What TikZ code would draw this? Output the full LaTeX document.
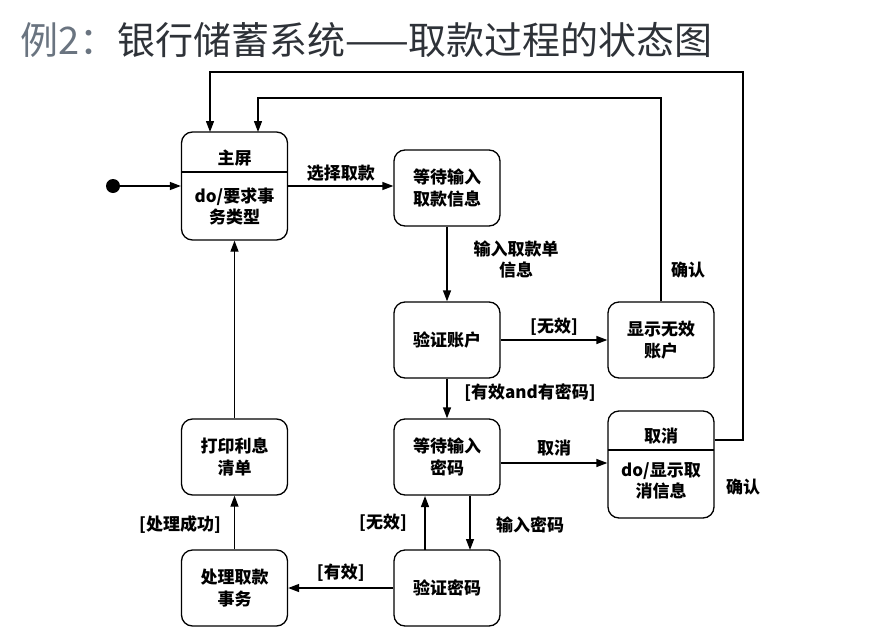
\documentclass[tikz,border=0pt]{standalone}
\usepackage{fontspec}
\setmainfont{Noto Sans CJK SC}
\usetikzlibrary{arrows.meta}
\definecolor{titlec}{HTML}{6A7480}
\definecolor{titled}{HTML}{2E3238}
\begin{document}
\begin{tikzpicture}[x=1pt,y=-1pt,
  st/.style={draw,line width=1.3pt,rounded corners=11pt,minimum width=106pt,minimum height=76pt,inner sep=0pt,align=center,font=\fontsize{17}{22}\selectfont\bfseries},
  lab/.style={font=\fontsize{17}{21}\selectfont\bfseries,align=center,inner sep=1pt},
  ar/.style={line width=1.3pt,-{Triangle[length=11pt,width=8pt]}}]
\useasboundingbox (0,0) rectangle (877,637);
\node[anchor=west,font=\fontsize{38}{40}\selectfont,inner sep=0pt] (title) at (20,40) {\textcolor{titlec}{例2：}\textcolor{titled}{银行储蓄系统——取款过程的状态图}};
% states
\node[st,minimum height=108pt] (main) at (234.5,186) {};
\draw[line width=1.3pt] (182,172) -- (287,172);
\node[lab] (mainT) at (234.5,158) {主屏};
\node[lab] (mainB) at (234.5,206) {do/要求事\\务类型};
\node[st] (wait) at (447,188) {等待输入\\取款信息};
\node[st] (acct) at (447,340) {验证账户};
\node[st] (inval) at (661,340) {显示无效\\账户};
\node[st] (pwd) at (447,457) {等待输入\\密码};
\node[st,minimum height=107pt] (cancel) at (661,464.5) {};
\draw[line width=1.3pt] (608,450) -- (714,450);
\node[lab] (cancelT) at (661,436) {取消};
\node[lab] (cancelB) at (661,481) {do/显示取\\消信息};
\node[st] (print) at (234.5,457) {打印利息\\清单};
\node[st] (proc) at (234.5,588) {处理取款\\事务};
\node[st] (vpwd) at (447,588) {验证密码};
\fill (113,186) circle (7pt) coordinate (init);
% connectors
\draw[ar] (init) -- (main.west|-init);
\draw[ar] (main.east|-init) -- node[lab,above=3pt] {选择取款} (wait.west|-init);
\draw[ar] (wait) -- (acct);
\node[lab] (l1) at (516,259) {输入取款单\\信息};
\draw[ar] (acct) -- node[lab,above=3pt] {[无效]} (inval);
\draw[ar] (inval.north) -- (661,98) -- (258,98) -- (258,132);
\node[lab] (l2) at (688,270) {确认};
\draw[ar] (cancel.east|-0,440) -- (743,440) -- (743,72) -- (210,72) -- (210,132);
\node[lab] (l3) at (743,487) {确认};
\draw[ar] (acct) -- (pwd);
\node[lab] (l4) at (530,393) {[有效and有密码]};
\draw[ar] (pwd.east|-0,463) -- node[lab,above=5pt] {取消} (cancel.west|-0,463);
\draw[ar] (470,496) -- (470,550);
\node[lab] (l5) at (530,525) {输入密码};
\draw[ar] (425,550) -- (425,496);
\node[lab] (l6) at (383,523) {[无效]};
\draw[ar] (vpwd) -- node[lab,above=5pt] {[有效]} (proc);
\draw[ar] (proc) -- (print);
\node[lab] (l7) at (180,525) {[处理成功]};
\draw[ar] (print.north) -- (main.south);
\end{tikzpicture}
\end{document}
